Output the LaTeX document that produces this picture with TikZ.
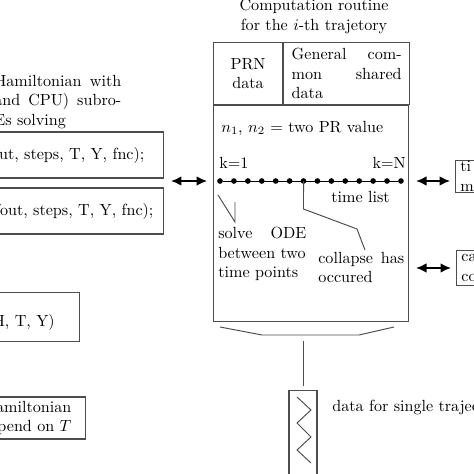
\documentclass[tikz,border=0pt]{standalone}
\usepackage{amsmath}
\usetikzlibrary{arrows.meta,positioning}
\definecolor{rtline}{HTML}{4D4D4D}

\begin{document}
\begin{tikzpicture}[x=0.62pt,y=-0.62pt,
 >={Latex[length=6.5pt,width=6pt]},
 cell/.style={draw=rtline,line width=0.7pt,minimum height=38.4pt,inner sep=0pt,anchor=north west},
 plain/.style={inner sep=0pt},
 tdot/.style={circle,fill=black,inner sep=0pt,minimum size=3.5pt},
 sidebox/.style={draw=rtline,line width=0.7pt},
 link/.style={<->,line width=1pt},
 pointer/.style={rtline,line width=0.6pt}
]
\useasboundingbox (0,0) rectangle (474,474);

% computation routine for one trajectory
\node[plain,align=center] (title) at (314,16.5) {Computation routine\\for the $i$-th trajetory};
\node[cell,minimum width=42.8pt,align=center] (prn) at (213,42) {PRN\\data};
\node[cell,minimum width=78.1pt,text width=68.2pt,align=left,inner xsep=4.95pt] (shared) at (prn.north east)
 {General\hfill com-\\mon\hfill shared\\data};
\node[cell,minimum width=120.9pt,minimum height=133.9pt] (body) at (prn.south west) {};

\node[plain,anchor=west] (prval) at (221,128) {$n_1$, $n_2$ = two PR value};
\node[plain,anchor=west] (kfirst) at (219,163) {k=1};
\node[plain,anchor=east] (klast) at (406,163) {k=N};
\foreach \i in {0,...,13}
 \node[tdot] (t\i) at ({220+13.92*\i},181) {};
\draw[line width=0.6pt] (t0) -- (t13);
\node[plain,anchor=west] (tlist) at (331,197) {time list};

\node[plain,anchor=north west,text width=54.6pt,align=left] (solve) at (218,227)
 {solve\hfill ODE\\between two\\time points};
\node[plain,anchor=north west,text width=53.3pt,align=left] (collapse) at (318,252)
 {collapse\hfill has\\occured};
\draw[pointer] (218,195) -- (235,222) -- (235,202);
\draw[pointer] (t6.center) -- (303.5,209) -- (357,229) -- (365,250);

% single trajectory data
\draw[pointer] (220,327) -- (262,335) -- (359,335) -- (394,327);
\coordinate (bracetip) at (303,341);
\node[sidebox,anchor=north,minimum width=17.4pt,minimum height=62pt] (trajdata) at (303,390) {};
\draw[pointer,shorten >=2.5pt] (bracetip) -- (trajdata.north);
\draw[pointer] (297,397) -- (311,410) -- (297,423) -- (311,437) -- (297,450) -- (311,463);
\node[plain,anchor=west] (trajtext) at (332,407) {data for single trajec};

% right side
\node[sidebox,anchor=north west,text width=30pt,align=left,inner xsep=3pt,inner ysep=0.5pt] (timebox) at (455,160) {ti\\m};
\node[sidebox,anchor=north west,text width=30pt,align=left,inner xsep=3pt,inner ysep=2.5pt] (collbox) at (456,250) {ca\\co};
\draw[link,shorten <=4.3pt,shorten >=3.1pt] (body.east |- t13) -- (timebox.west |- t13);
\draw[link,shorten <=4.3pt,shorten >=3.1pt] (body.east |- collbox.west) -- (collbox.west);

% left side
\node[plain,anchor=north west,text width=78.7pt,align=left] (hamtext) at (-6,75)
 {Hamiltonian\hfill with\\and\hfill CPU)\hfill subro-\\Es solving};
\node[sidebox,anchor=east,minimum height=28.5pt,inner xsep=11.8pt] (odeA) at (164,155) {out, steps, T, Y, fnc);};
\node[sidebox,anchor=east,minimum height=28.5pt,inner xsep=6.2pt] (odeB) at (164,211) {fout, steps, T, Y, fnc);};
\node[sidebox,anchor=north east,minimum width=70pt,minimum height=30.4pt] (stepH) at (80,292) {};
\node[plain,anchor=east] (stepHtext) at (55,322) {H, T, Y)};
\node[sidebox,anchor=east,align=right,inner xsep=8.7pt,inner ysep=1pt,minimum height=26pt] (hamT) at (86,418)
 {amiltonian\\pend on $T$};
\coordinate (solvers) at (171,181);
\draw[link,shorten >=3.7pt] (solvers) -- (body.west |- t0.center);
\end{tikzpicture}
\end{document}
